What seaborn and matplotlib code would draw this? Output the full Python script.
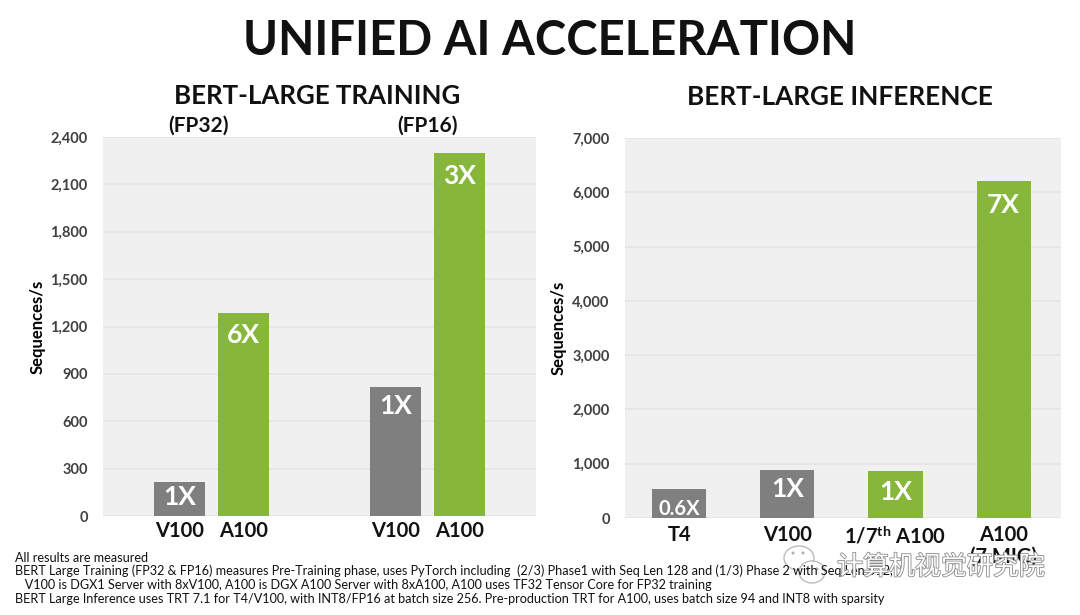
import pandas as pd
import matplotlib.pyplot as plt
import matplotlib.patheffects as pe
from matplotlib.patches import Ellipse
import seaborn as sns

train_groups = ['FP32', 'FP32', 'FP16', 'FP16']
train_chips = ['V100', 'A100', 'V100', 'A100']
train_values = [215, 1285, 820, 2300]
train_labels = ['1X', '6X', '1X', '3X']
train_ticks = [0, 300, 600, 900, 1200, 1500, 1800, 2100, 2400]

infer_chips = ['T4', 'V100', '1/7th', 'A100']
infer_values = [530, 890, 870, 6200]
infer_labels = ['0.6X', '1X', '1X', '7X']
infer_ticks = [0, 1000, 2000, 3000, 4000, 5000, 6000, 7000]
infer_names = ['T4', 'V100', r'1/7$^{\mathbf{th}}$ A100', 'A100\n(7 MIG)']

footnotes = [
    'All results are measured',
    'BERT Large Training (FP32 & FP16) measures Pre-Training phase, uses PyTorch including  (2/3) Phase1 with Seq Len 128 and (1/3) Phase 2 with Seq Len 512,',
    '   V100 is DGX1 Server with 8xV100, A100 is DGX A100 Server with 8xA100, A100 uses TF32 Tensor Core for FP32 training',
    'BERT Large Inference uses TRT 7.1 for T4/V100, with INT8/FP16 at batch size 256. Pre-production TRT for A100, uses batch size 94 and INT8 with sparsity',
]

GREEN = '#86B63A'
GRAY = '#7F7F7F'
W, H = 1080, 615

sns.set_theme(style='white')
plt.rcParams['font.family'] = ['Lato', 'DejaVu Sans']
plt.rcParams['mathtext.fontset'] = 'custom'
plt.rcParams['mathtext.bf'] = 'Lato:bold'


def style_axes(ax, ticks):
    ax.set_facecolor('#F0F0F0')
    ax.set_ylim(0, ticks[-1])
    ax.set_yticks(ticks)
    ax.set_yticklabels([f'{t:,}' for t in ticks], fontsize=10.5, fontweight='bold', color='#404040')
    ax.yaxis.grid(True, color='#E4E4E4', linewidth=1.2)
    ax.set_axisbelow(True)
    ax.tick_params(axis='both', length=0)
    ax.tick_params(axis='y', pad=11)
    sns.despine(ax=ax, left=True, bottom=True)
    ax.set_xlabel('')
    ax.set_ylabel('Sequences/s', fontsize=12, fontweight='bold', color='black')


def label_bars(ax, bars, labels, drops, sizes):
    for bar, text, drop, size in zip(bars, labels, drops, sizes):
        ax.annotate(text, (bar.get_x() + bar.get_width() / 2, bar.get_height()),
                    xytext=(0, -drop), textcoords='offset points',
                    ha='center', va='center', color='white', fontsize=size, fontweight='bold')


fig = plt.figure(figsize=(W / 100, H / 100), dpi=100, facecolor='white')

# left panel
ax1 = fig.add_axes([103 / W, 1 - 516 / H, 433 / W, 379 / H])
train_df = pd.DataFrame({'group': train_groups, 'chip': train_chips, 'value': train_values})
sns.barplot(data=train_df, x='group', y='value', hue='chip', hue_order=['V100', 'A100'],
            palette=[GRAY, GREEN], saturation=1, linewidth=0, width=0.59, gap=0.2, legend=False, ax=ax1)
style_axes(ax1, train_ticks)
ax1.set_xticks([])
bars = [ax1.containers[0][0], ax1.containers[1][0], ax1.containers[0][1], ax1.containers[1][1]]
label_bars(ax1, bars, train_labels, [11, 16, 14, 17], [19, 19, 19, 19])
for bar, chip in zip(bars, train_chips):
    ax1.annotate(chip, (bar.get_x() + bar.get_width() / 2, 0), xytext=(0, -11),
                 textcoords='offset points', ha='center', va='center',
                 fontsize=14.5, fontweight='bold', color='#111111')
ax1.set_title('BERT-LARGE TRAINING', fontsize=18.6, fontweight='bold', color='#111111', x=0.495, y=1.087, va='center')
for group_x, group, shift in zip([0, 1], ['(FP32)', '(FP16)'], [-9, 0]):
    ax1.annotate(group, (group_x, 1), xycoords=('data', 'axes fraction'), xytext=(shift, 8),
                 textcoords='offset points', ha='center', va='center',
                 fontsize=15, fontweight='bold', color='#111111')
ax1.yaxis.set_label_coords(-0.132, 0.5)

# right panel
ax2 = fig.add_axes([625 / W, 1 - 518 / H, 436 / W, 380 / H])
infer_df = pd.DataFrame({'chip': infer_chips, 'value': infer_values})
sns.barplot(data=infer_df, x='chip', y='value', hue='chip', palette=[GRAY, GRAY, GREEN, GREEN],
            saturation=1, linewidth=0, width=0.5, legend=False, ax=ax2)
style_axes(ax2, infer_ticks)
ax2.set_xlim(-0.5, 3.53)
ax2.set_xticks(range(len(infer_names)))
ax2.set_xticklabels(infer_names, fontsize=14.5, fontweight='bold', color='#111111', linespacing=1.1, va='top')
ax2.tick_params(axis='x', pad=5)
bars = [c[0] for c in ax2.containers]
label_bars(ax2, bars, infer_labels, [14, 14, 15, 17], [14.5, 19, 19, 19])
ax2.set_title('BERT-LARGE INFERENCE', fontsize=18.8, fontweight='bold', color='#111111', x=0.492, y=1.087, va='center')
ax2.yaxis.set_label_coords(-0.135, 0.5)

fig.text(550 / W, 1 - 41 / H, 'UNIFIED AI ACCELERATION', fontsize=34, fontweight='bold',
         color='#111111', ha='center', va='center')

for y, line in zip([558, 571, 585, 599], footnotes):
    fig.text(15 / W, 1 - y / H, line, fontsize=9.1, color='#111111', ha='left', va='center')

# watermark
fig.text(1045 / W, 1 - 567 / H, '计算机视觉研究院', fontsize=18.7, family=['Noto Sans CJK SC', 'DejaVu Sans'],
         color='#FFFFFF', ha='right', va='center',
         path_effects=[pe.withStroke(linewidth=1.2, foreground='#8A8A8A')])
for cx, cy, w, h in [(799, 558, 30, 24), (812, 572, 26, 22)]:
    fig.add_artist(Ellipse((cx / W, 1 - cy / H), w / W, h / H, transform=fig.transFigure,
                           facecolor='#FFFFFF', edgecolor='#B0B0B0', linewidth=1, alpha=0.85))
for cx, cy in [(793, 553), (803, 553), (807, 569), (817, 569)]:
    fig.add_artist(Ellipse((cx / W, 1 - cy / H), 3 / W, 3 / H, transform=fig.transFigure,
                           facecolor='#B0B0B0', edgecolor='none'))

fig.savefig('out.png', dpi=100)
